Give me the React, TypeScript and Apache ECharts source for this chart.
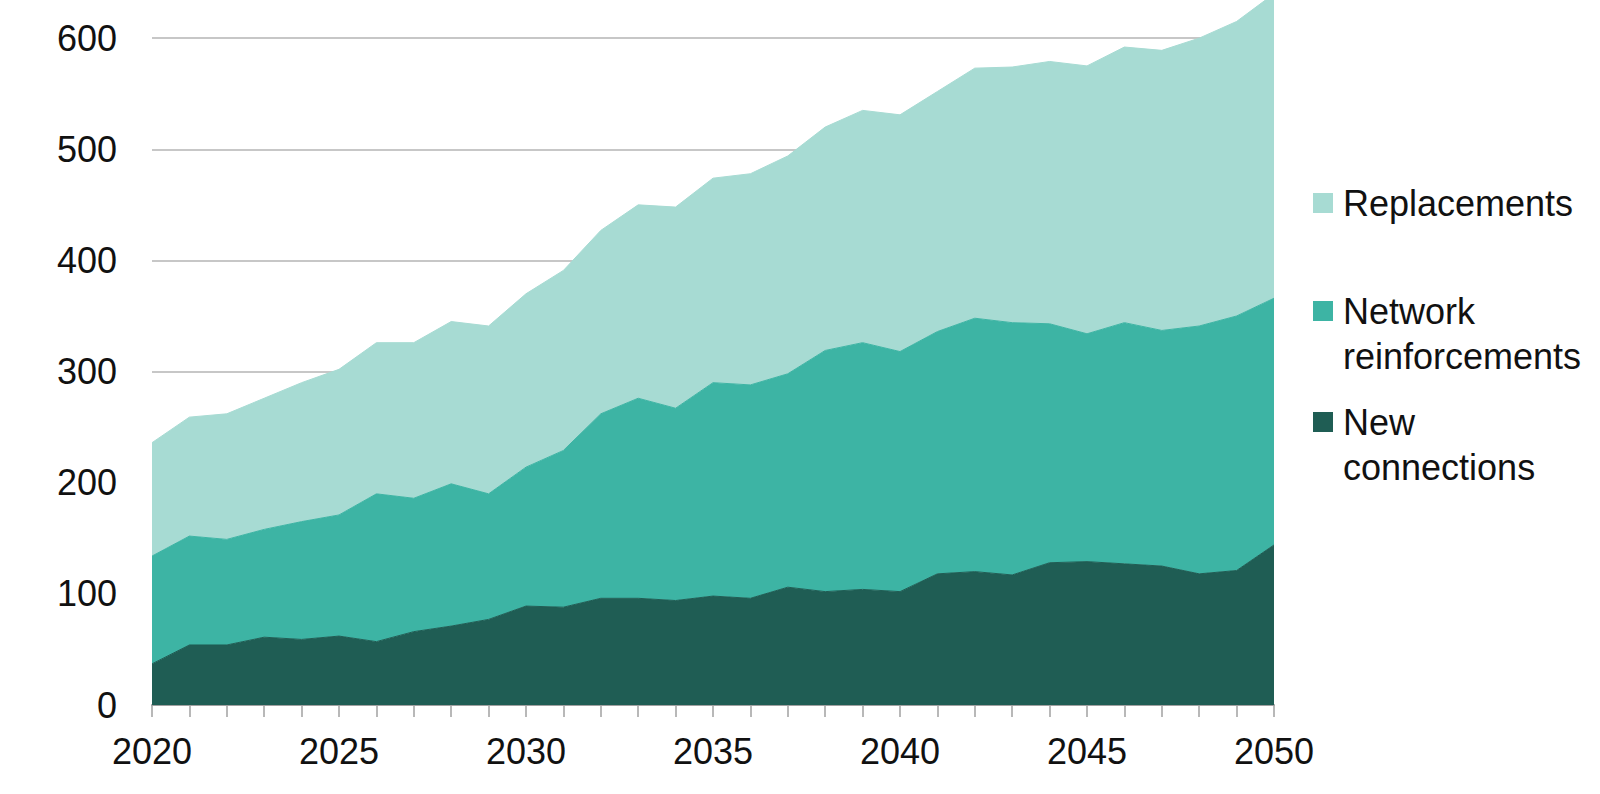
import { useEffect, useRef } from "react";
import * as echarts from "echarts";

const years = [
  "2020", "2021", "2022", "2023", "2024", "2025", "2026", "2027", "2028", "2029",
  "2030", "2031", "2032", "2033", "2034", "2035", "2036", "2037", "2038", "2039",
  "2040", "2041", "2042", "2043", "2044", "2045", "2046", "2047", "2048", "2049", "2050",
];

const newConnections = [
  37, 54, 54, 61, 59, 62, 57, 66, 71, 77,
  89, 88, 96, 96, 94, 98, 96, 106, 102, 104,
  102, 118, 120, 117, 128, 129, 127, 125, 118, 121, 144,
];

const networkReinforcements = [
  97, 98, 95, 97, 106, 109, 133, 120, 128, 113,
  125, 141, 166, 180, 173, 192, 192, 192, 217, 222,
  216, 218, 228, 227, 215, 205, 217, 212, 223, 229, 222,
];

const replacements = [
  102, 107, 113, 118, 125, 131, 136, 140, 146, 151,
  156, 162, 165, 174, 181, 184, 190, 196, 201, 209,
  213, 216, 225, 230, 236, 241, 248, 252, 259, 265, 274,
];

const FONT = "'Liberation Sans', Arial, sans-serif";
const C_DARK = "#1f5d54";
const C_MID = "#3db4a4";
const C_LIGHT = "#a7dbd3";

export default function App() {
  const containerRef = useRef<HTMLDivElement>(null);

  useEffect(() => {
    if (!containerRef.current) return;
    const chart = echarts.init(containerRef.current, null, { renderer: "svg" });

    const area = (name: string, data: number[], color: string) => ({
      name,
      type: "line",
      stack: "total",
      data,
      symbol: "none",
      lineStyle: { width: 1, color },
      areaStyle: { color, opacity: 1 },
      itemStyle: { color },
    });

    // legend drawn by hand: icons sit on the first text line, gaps are uneven
    const legendItem = (y: number, color: string, text: string) => ({
      type: "group",
      children: [
        { type: "rect", shape: { x: 1313, y: y + 100 - 10, width: 20, height: 20 }, style: { fill: color } },
        {
          type: "text",
          x: 1343,
          y: y + 100 - 22,
          style: { text, fill: "#111", font: `36px ${FONT}`, lineHeight: 45, verticalAlign: "top" },
        },
      ],
    });

    chart.setOption({
      animation: false,
      backgroundColor: "#fff",
      grid: { left: 152, right: 326, top: 27, bottom: 89 },
      xAxis: {
        type: "category",
        data: years,
        boundaryGap: false,
        axisLine: { lineStyle: { color: "#a0a0a0", width: 2 } },
        axisTick: { interval: 0, length: 12, lineStyle: { color: "#a0a0a0", width: 1.5 } },
        axisLabel: { interval: 4, color: "#111", fontSize: 36, fontFamily: FONT, margin: 28 },
        splitLine: { show: false },
      },
      yAxis: {
        type: "value",
        min: 0,
        max: 700,
        interval: 100,
        axisLine: { show: false },
        axisTick: { show: false },
        axisLabel: { color: "#111", fontSize: 36, fontFamily: FONT, margin: 35, showMaxLabel: false },
        splitLine: { lineStyle: { color: "#b4b4b4", width: 1.5 } },
      },
      series: [
        area("New connections", newConnections, C_DARK),
        area("Network reinforcements", networkReinforcements, C_MID),
        area("Replacements", replacements, C_LIGHT),
      ],
      graphic: [
        legendItem(203, C_LIGHT, "Replacements"),
        legendItem(311, C_MID, "Network\nreinforcements"),
        legendItem(422, C_DARK, "New\nconnections"),
      ],
    });

    return () => chart.dispose();
  }, []);

  return (
    <div
      ref={containerRef}
      style={{ position: "absolute", left: 0, top: -100, width: 1600, height: 894 }}
    />
  );
}
